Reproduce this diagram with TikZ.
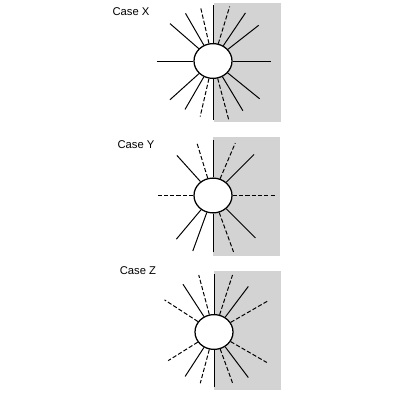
\documentclass[tikz,border=0pt]{standalone}
\usepackage{fontspec}
\setmainfont{Liberation Sans}
\usepackage{tikz}
\usetikzlibrary{calc}
\usetikzlibrary{shapes.geometric}
\definecolor{panelgray}{RGB}{211,211,211}
\tikzset{
	circlestyle/.style={ellipse,draw=black,fill=white,line width=0.9pt,minimum width=9.5mm,minimum height=8.7mm,inner sep=0pt},
	raystyle/.style={draw=black,line width=0.7pt},
	dashstyle/.style={draw=black,line width=0.7pt,dash pattern=on 3pt off 1.5pt},
	labelstyle/.style={font=\fontsize{8}{9}\selectfont,inner sep=0pt}
}
\begin{document}
\begin{tikzpicture}[x=0.25mm,y=0.25mm]
	\useasboundingbox (0,0) rectangle (400,400);
	\fill[panelgray] (214,278) rectangle (281,397);
	\fill[panelgray] (213,144) rectangle (280,263);
	\fill[panelgray] (214,10) rectangle (281,129);
	\node[labelstyle] (lx) at (131,388) {Case X};
	\node[labelstyle] (ly) at (136,255) {Case Y};
	\node[labelstyle] (lz) at (138,129) {Case Z};
	\node[circlestyle] (x) at (213,339) {};
	\draw[raystyle] (x.0)--($(x)+(0:58)$);
	\draw[raystyle] (x.180)--($(x)+(180:56)$);
	\draw[raystyle] (x.38)--($(x)+(38:58)$);
	\draw[raystyle] (x.56)--($(x)+(56:58)$);
	\draw[dashstyle] (x.73)--($(x)+(73:57)$);
	\draw[raystyle] (x.90)--($(x)+(90:56)$);
	\draw[dashstyle] (x.103)--($(x)+(103:56)$);
	\draw[raystyle] (x.120)--($(x)+(120:55)$);
	\draw[raystyle] (x.139)--($(x)+(139:57)$);
	\draw[raystyle] (x.-39)--($(x)+(-39:60)$);
	\draw[raystyle] (x.-59)--($(x)+(-59:58)$);
	\draw[dashstyle] (x.-75)--($(x)+(-75:62)$);
	\draw[raystyle] (x.-90)--($(x)+(-90:59)$);
	\draw[dashstyle] (x.-103)--($(x)+(-103:57)$);
	\draw[raystyle] (x.-120)--($(x)+(-120:56)$);
	\draw[raystyle] (x.-138)--($(x)+(-138:58)$);
	\node[circlestyle] (y) at (213,204.5) {};
	\draw[dashstyle] (y.0)--($(y)+(0:62)$);
	\draw[dashstyle] (y.180)--($(y)+(180:55)$);
	\draw[raystyle] (y.45)--($(y)+(45:58)$);
	\draw[dashstyle] (y.67)--($(y)+(67:57)$);
	\draw[raystyle] (y.90)--($(y)+(90:55)$);
	\draw[dashstyle] (y.107)--($(y)+(107:56)$);
	\draw[raystyle] (y.132)--($(y)+(132:54)$);
	\draw[raystyle] (y.-45)--($(y)+(-45:60)$);
	\draw[dashstyle] (y.-70)--($(y)+(-70:60)$);
	\draw[raystyle] (y.-90)--($(y)+(-90:57)$);
	\draw[raystyle] (y.-110)--($(y)+(-110:59)$);
	\draw[raystyle] (y.-130)--($(y)+(-130:57)$);
	\node[circlestyle] (z) at (214,68) {};
	\draw[dashstyle] (z.30)--($(z)+(30:62)$);
	\draw[raystyle] (z.53)--($(z)+(53:57)$);
	\draw[dashstyle] (z.72)--($(z)+(72:60)$);
	\draw[raystyle] (z.90)--($(z)+(90:58)$);
	\draw[dashstyle] (z.105)--($(z)+(105:59)$);
	\draw[raystyle] (z.123)--($(z)+(123:57)$);
	\draw[dashstyle] (z.147)--($(z)+(147:59)$);
	\draw[dashstyle] (z.-30)--($(z)+(-30:61)$);
	\draw[raystyle] (z.-53)--($(z)+(-53:57)$);
	\draw[dashstyle] (z.-70)--($(z)+(-70:56)$);
	\draw[raystyle] (z.-90)--($(z)+(-90:55)$);
	\draw[dashstyle] (z.-105)--($(z)+(-105:53)$);
	\draw[raystyle] (z.-123)--($(z)+(-123:53)$);
	\draw[dashstyle] (z.-148)--($(z)+(-148:54)$);
\end{tikzpicture}
\end{document}
